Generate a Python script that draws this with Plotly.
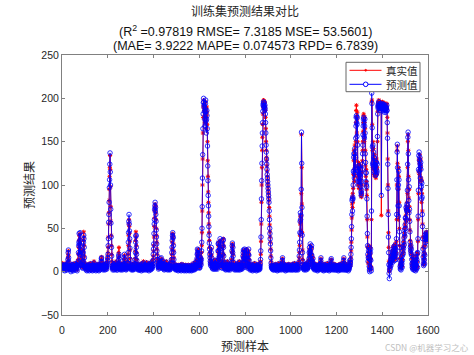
import plotly.graph_objects as go

# ---------------- data ----------------
# true values, blocks of 100 samples
t00 = [5,8,10,7,4,6,3,5,8,6,4,2,5,7,9,6,3,4,6,8,5,3,6,9,12,
       16,20,24,18,12,8,6,4,5,
       3,5,7,4,2,6,8,5,3,4,7,9,6,3,2,5,8,6,4,3,5,7,10,8,5,3,4,6,9,7,4,2,5,8,12,9,
       14,20,28,36,42,30,22,38,44,32,24,18,26,15,10,8,12,9,6,5,
       8,14,24,36,46,40,30,18,10,7]
t01 = [5,4,8,6,3,5,7,4,2,6,
       5,8,6,3,4,7,9,5,2,4,6,8,5,3,7,10,6,4,3,5,8,6,2,4,7,5,3,6,9,12,8,5,3,4,6,7,4,2,5,8,6,3,5,9,7,4,3,6,8,5,2,4,7,9,6,3,5,8,4,6,
       10,14,17,12,8,5,7,4,6,3,
       5,8,6,4,7,9,5,3,6,8,4,5,7,10,6,4,8,12,15,18]
t02 = [22,28,40,55,68,82,95,110,120,134,118,98,75,58,42,30,20,12,8,6,
       5,3,6,8,4,7,10,6,3,5,8,9,5,4,6,12,8,5,3,4,7,6,3,5,8,
       10,16,22,28,18,10,6,4,7,5,
       3,6,8,5,4,7,9,6,3,5,8,10,7,4,6,
       9,14,19,15,10,6,4,8,5,3,
       6,8,5,4,7,10,6,12,20,30,42,55,60,52,44,35,25,15,9,6]
t03 = [4,7,5,3,6,8,4,5,9,6,3,4,7,5,8,10,6,4,9,15,
       24,36,46,40,30,22,14,9,6,5,7,4,3,6,8,
       5,3,4,7,9,6,3,5,8,6,4,2,5,7,10,8,5,3,6,9,12,7,4,3,6,8,5,4,7,9,6,3,5,8,11,7,4,6,5,3,4,7,9,6,2,5,8,10,7,4,6,3,5,8,6,4,9,12,8,5,7,10,14,18,24]
t04 = [30,40,52,62,70,74,78,72,76,68,60,50,42,34,26,20,15,12,9,7,
       6,4,8,10,7,5,9,12,14,10,8,6,11,15,12,9,7,5,8,10,13,9,6,4,7,5,3,6,8,10,7,5,4,6,9,12,8,6,4,7,5,3,6,8,5,4,7,9,6,4,3,5,8,6,4,7,10,12,15,20,
       26,34,40,44,38,42,32,24,16,10,7,5,6,4,8,
       5,3,6,4,7]
t05 = [5,8,4,3,6,7,5,2,4,6,8,5,3,4,7,6,3,5,8,4,2,5,7,9,6,3,4,6,5,3,7,8,4,2,5,6,3,4,7,5,8,6,3,2,4,6,5,7,4,3,6,8,5,3,4,2,5,7,6,4,3,5,8,6,4,2,3,6,7,5,4,3,5,8,10,6,4,3,5,7,9,6,4,8,12,10,7,5,8,14,
       18,24,20,15,22,26,18,12,8,6]
t06 = [5,8,6,10,14,18,12,9,15,22,30,45,
       70,100,130,160,178,190,198,192,186,194,188,180,172,185,190,196,188,178,165,180,190,184,170,150,128,110,92,80,68,55,45,36,28,22,18,14,10,8,
       12,20,26,18,10,7,5,8,6,4,7,9,12,8,5,4,6,10,14,10,6,4,7,5,8,12,9,6,4,8,14,22,30,34,26,18,12,16,24,30,36,28,20,12,8,6,9,12,8,5]
t07 = [10,18,28,34,38,30,20,12,8,5,7,4,6,8,5,
       3,6,9,7,4,5,8,12,10,6,4,3,5,7,9,6,4,8,6,3,5,7,10,8,5,
       9,14,22,28,32,24,30,20,12,8,6,4,7,5,3,
       6,8,5,4,7,9,6,3,5,8,10,7,4,6,5,3,4,7,9,12,8,5,3,6,8,5,4,7,10,8,6,4,5,8,12,16,20,24,18,12,
       16,22,25,18,12]
t08 = [8,6,10,14,18,22,26,20,15,10,7,5,8,12,18,24,20,14,9,6,
       5,3,6,8,4,7,5,3,6,9,7,4,2,5,8,6,3,4,7,5,8,10,6,4,3,5,7,6,4,2,5,8,6,3,4,7,9,6,4,5,3,6,8,5,4,7,10,12,
       20,35,55,80,100,120,140,155,170,182,190,196,198,194,190,197,192,188,195,190,186,178,165,150,140,132,128,122,116,110,106,102]
t09 = [98,94,90,86,82,74,64,54,46,40,34,26,18,12,8,6,5,7,4,6,8,5,3,6,4,7,5,3,6,8,
       5,4,7,9,6,3,5,8,6,4,2,5,7,6,3,4,8,10,7,5,3,6,8,5,4,7,9,6,4,3,5,8,12,15,11,7,5,4,6,8,5,3,6,9,7,4,2,5,8,6,3,4,7,5,8,6,4,3,5,7,9,6,4,5,8,6,3,4,7,5]
t10 = [6,8,4,3,5,7,9,6,4,3,6,8,5,4,7,10,8,5,3,4,6,8,5,3,7,9,6,4,5,8,6,3,4,7,9,12,16,22,
       30,42,55,64,58,48,62,90,158,120,78,45,25,14,9,6,5,
       4,7,5,3,6,8,5,4,7,9,6,3,5,8,10,7,5,4,6,9,12,8,6,10,14,
       20,26,18,22,30,24,16,12,18,25,28,20,14,10,8,12,16,10,6,5]
t11 = [4,6,8,5,3,7,9,6,4,5,8,6,3,4,7,5,2,4,6,8,5,3,6,9,7,4,5,8,10,6,12,15,11,8,5,3,6,4,7,5,8,6,3,2,5,7,9,6,4,3,6,8,5,4,7,5,3,6,8,10,7,4,3,5,8,6,4,2,5,7,9,6,3,4,8,12,14,10,6,4,5,7,4,3,6,8,5,4,7,9,6,3,5,8,6,4,3,5,7,6]
t12 = [5,8,6,3,4,7,5,2,4,6,8,5,3,6,9,7,4,5,3,6,8,6,4,7,10,8,5,3,4,6,12,15,10,7,5,3,4,6,8,5,3,4,7,9,6,4,3,5,8,6,4,2,5,7,6,4,8,12,10,6,
       8,12,16,24,34,48,62,78,86,74,90,80,96,112,128,140,118,104,132,146,122,110,128,150,172,186,192,178,160,176,184,150,120,100,112,126,108,96,118,124]
t13 = [110,100,116,122,106,95,88,92,86,90,100,115,128,140,150,
       162,172,180,182,176,160,150,172,178,165,140,122,110,100,118,
       104,95,88,60,40,28,18,10,
       14,22,30,18,8,4,2,6,12,20,28,15,6,3,
       60,196,198,170,140,120,150,130,
       118,142,128,112,120,135,124,110,118,128,115,108,122,114,130,118,112,120,
       150,185,192,195,190,196,198,194,192,196,190,188,194,196,190,192,194,65,192,195,190,194]
t14 = [196,192,190,194,188,192,195,190,186,192,194,190,188,192,190,186,190,192,188,194,
       188,178,160,130,100,
       70,45,28,12,2,0,4,8,12,6,10,15,8,12,18,
       14,20,16,24,18,12,22,28,20,26,30,24,18,14,22,28,32,26,20,15,22,35,
       60,100,140,145,125,100,80,60,95,120,110,80,50,30,15,8,5,10,
       6,4,8,12,18,10,6,14,20,25,30,22,28,35,40,32,45,50,42,55]
t15 = [60,52,65,72,58,75,68,80,74,90,120,150,
       158,140,110,85,70,95,75,60,
       48,36,30,25,32,22,28,20,15,10,6,8,4,12,18,10,5,3,8,14,
       6,3,8,12,5,2,10,18,8,4,15,22,12,6,20,35,
       60,90,115,130,128,112,125,135,120,105,118,130,122,108,95,80,105,90,70,
       55,40,28,18,10,8,14,22,15,10,20,30,38,44,40,35,42,46,38,44,40,36,42,45,40]

# predicted values, same blocks
p00 = [3,6,7,8,5,4,2,6,7,4,5,1,4,8,7,5,2,5,7,6,4,2,7,8,10,
       14,22,25,16,11,6,4,3,4,
       2,6,6,3,0,5,7,6,2,3,8,8,5,2,1,6,7,5,3,4,6,6,9,7,4,2,5,7,8,6,3,1,6,7,10,8,
       12,22,30,34,44,32,20,36,45,30,22,20,24,14,8,7,11,8,5,4,
       7,12,22,34,42,38,28,16,9,6]
p01 = [4,5,7,5,2,6,6,3,1,5,
       6,7,5,2,5,6,8,4,1,5,5,7,6,2,6,9,5,3,2,6,7,5,1,5,6,4,2,7,8,10,7,4,2,5,5,6,3,1,6,7,5,2,6,8,6,3,2,5,7,4,1,5,6,8,5,2,6,7,3,5,
       12,15,16,11,7,4,6,3,5,2,
       4,7,5,3,8,8,4,2,5,7,3,6,6,9,5,3,7,10,13,16]
p02 = [20,30,38,57,66,80,97,106,124,137,115,100,72,56,40,28,18,10,7,5,
       4,2,5,7,3,6,9,5,2,6,7,8,4,3,5,10,7,4,2,5,6,5,2,4,7,
       9,13,18,20,15,9,5,3,6,4,
       2,5,7,4,3,6,8,5,2,4,7,9,6,3,5,
       8,16,20,14,9,5,3,7,4,2,
       5,7,4,3,6,9,5,10,22,34,45,58,66,55,47,38,27,14,8,5]
p03 = [3,6,4,2,5,7,3,4,8,5,2,3,6,4,7,9,5,3,8,14,
       22,34,41,42,28,20,13,8,5,4,6,3,2,5,7,
       4,2,3,6,8,5,2,4,7,5,3,1,4,6,9,7,4,2,5,8,10,6,3,2,5,7,4,3,6,8,5,2,4,7,10,6,3,5,4,2,3,6,8,5,1,4,7,9,6,3,5,2,4,7,5,3,8,11,7,4,6,9,13,20,26]
p04 = [32,44,55,60,72,76,80,70,74,66,58,48,40,32,24,18,14,11,8,6,
       5,3,7,9,6,4,8,11,15,9,7,5,10,16,11,8,6,4,7,9,12,8,5,3,6,4,2,5,7,9,6,4,3,5,8,11,7,5,3,6,4,2,5,7,4,3,6,8,5,3,2,4,7,5,3,6,9,11,14,22,
       28,36,42,45,40,39,30,22,14,9,6,4,5,3,7,
       4,2,5,3,6]
p05 = [4,7,3,2,5,6,4,1,3,5,7,4,2,3,6,5,2,4,7,3,1,4,6,8,5,2,3,5,4,2,6,7,3,1,4,5,2,3,6,4,7,5,2,1,3,5,4,6,3,2,5,7,4,2,3,1,4,6,5,3,2,4,7,5,3,1,2,5,6,4,3,2,4,7,9,5,3,2,4,6,8,5,3,7,11,9,6,4,7,15,
       20,26,22,14,20,25,17,11,7,5]
p06 = [4,7,5,9,13,16,11,8,14,24,34,50,
       75,108,135,165,182,195,200,196,190,192,185,176,168,188,194,198,185,174,160,176,186,180,165,145,122,105,88,76,64,52,42,33,26,20,16,12,9,7,
       11,22,28,16,9,6,4,7,5,3,6,8,11,7,4,3,5,9,13,9,5,3,6,4,7,11,8,5,3,7,13,24,32,33,24,16,11,18,26,32,38,26,18,11,7,5,8,11,7,4]
p07 = [9,20,30,36,37,28,18,11,7,4,6,3,5,7,4,
       2,5,8,6,3,4,7,11,9,5,3,2,4,6,8,5,3,7,5,2,4,6,9,7,4,
       8,15,24,30,33,22,28,18,11,7,5,3,6,4,2,
       5,7,4,3,6,8,5,2,4,7,9,6,3,5,4,2,3,6,8,11,7,4,2,5,7,4,3,6,9,7,5,3,4,7,11,18,22,25,16,11,
       15,24,26,17,11]
p08 = [7,5,9,15,20,24,25,18,14,9,6,4,7,13,20,26,19,13,8,5,
       4,2,5,7,3,6,4,2,5,8,6,3,1,4,7,5,2,3,6,4,7,9,5,3,2,4,6,5,3,1,4,7,5,2,3,6,8,5,3,4,2,5,7,4,3,6,9,14,
       24,40,60,84,105,125,145,160,172,185,192,194,196,190,192,195,190,186,192,188,182,172,160,146,138,130,124,118,112,108,104,100]
p09 = [96,92,88,84,80,70,60,50,44,38,32,24,16,10,7,5,4,6,3,5,7,4,2,5,3,6,4,2,5,7,
       4,3,6,8,5,2,4,7,5,3,1,4,6,5,2,3,7,9,6,4,2,5,7,4,3,6,8,5,3,2,4,7,13,16,10,6,4,3,5,7,4,2,5,8,6,3,1,4,7,5,2,3,6,4,7,5,3,2,4,6,8,5,3,4,7,5,2,3,6,4]
p10 = [5,7,3,2,4,6,8,5,3,2,5,7,4,3,6,9,7,4,2,3,5,7,4,2,6,8,5,3,4,7,5,2,3,6,8,11,18,25,
       34,45,58,68,60,44,65,95,161,125,74,42,22,12,8,5,4,
       3,6,4,2,5,7,4,3,6,8,5,2,4,7,9,6,4,3,5,8,11,7,5,9,15,
       22,28,17,24,32,22,15,11,19,27,30,19,13,9,7,11,15,9,5,4]
p11 = [3,5,7,4,2,6,8,5,3,4,7,5,2,3,6,4,1,3,5,7,4,2,5,8,6,3,4,7,9,5,13,16,10,7,4,2,5,3,6,4,7,5,2,1,4,6,8,5,3,2,5,7,4,3,6,4,2,5,7,9,6,3,2,4,7,5,3,1,4,6,8,5,2,3,7,13,15,9,5,3,4,6,3,2,5,7,4,3,6,8,5,2,4,7,5,3,2,4,6,5]
p12 = [4,7,5,2,3,6,4,1,3,5,7,4,2,5,8,6,3,4,2,5,7,5,3,6,9,7,4,2,3,5,13,16,9,6,4,2,3,5,7,4,2,3,6,8,5,3,2,4,7,5,3,1,4,6,5,3,7,13,11,7,
       10,14,20,28,38,52,66,82,84,70,86,84,100,116,132,136,114,108,136,142,118,114,132,154,168,178,180,172,156,170,178,146,116,104,116,122,104,100,122,120]
p13 = [112,104,112,118,110,98,92,88,90,94,104,118,124,136,146,
       158,168,176,178,172,156,154,168,176,160,136,126,114,104,114,
       100,98,84,64,44,30,20,12,
       16,24,28,16,6,2,0,5,14,22,26,13,4,1,
       70,206,194,166,144,124,146,126,
       122,138,132,116,124,131,120,114,122,124,111,112,126,118,126,114,116,124,
       156,182,190,192,188,194,196,192,190,193,188,186,192,194,188,190,192,88,190,193,188,192]
p14 = [194,190,188,192,186,190,193,188,184,190,192,188,186,190,188,184,188,190,186,192,
       186,172,154,124,96,
       66,40,22,8,-2,-8,2,6,10,4,9,14,7,11,17,
       13,19,15,23,17,11,21,27,19,25,29,23,17,13,21,27,31,25,19,14,21,38,
       66,106,138,147,120,96,76,64,100,116,106,76,46,28,13,6,3,8,
       4,2,7,11,17,9,5,13,19,24,29,21,27,34,39,31,44,49,41,54]
p15 = [62,50,62,74,60,72,70,78,76,94,124,155,
       161,136,106,82,68,98,72,58,
       46,34,28,24,30,21,26,19,14,9,5,7,3,11,17,9,4,2,7,13,
       5,2,7,11,4,1,9,17,7,3,14,21,11,5,22,38,
       64,94,118,134,138,116,128,132,124,108,121,126,118,104,98,84,102,86,66,
       52,38,26,17,9,7,13,21,14,9,19,29,37,43,39,34,41,45,37,43,39,35,41,44,39]

true_values = t00+t01+t02+t03+t04+t05+t06+t07+t08+t09+t10+t11+t12+t13+t14+t15
pred_values = p00+p01+p02+p03+p04+p05+p06+p07+p08+p09+p10+p11+p12+p13+p14+p15
x_true = list(range(1, len(true_values) + 1))
x_pred = list(range(1, len(pred_values) + 1))

x_ticks = [0, 200, 400, 600, 800, 1000, 1200, 1400, 1600]
y_ticks = [-50, 0, 50, 100, 150, 200, 250]

series_names = ["真实值", "预测值"]
title_1 = "训练集预测结果对比"
title_2 = "(R<sup>2</sup> =0.97819 RMSE= 7.3185 MSE= 53.5601)"
title_3 = "(MAE= 3.9222 MAPE= 0.074573 RPD= 6.7839)"

# ---------------- figure ----------------
CJK = "Noto Sans CJK SC"
LAT = "Liberation Sans, Arial, sans-serif"
TXT = "#262626"
RED = "#ff0000"
BLUE = "#0000ff"

# plot-area geometry in pixels (used to place text / legend box)
L, R, T, B = 62, 428, 55, 315
W, H = R - L, B - T
def px_x(px):
    return (px - L) / W
def px_y(py):
    return (B - py) / H

fig = go.Figure()
fig.add_trace(go.Scatter(
    x=x_true, y=true_values, name=series_names[0], mode="lines+markers",
    line=dict(color=RED, width=1),
    marker=dict(symbol="asterisk-open", size=3.5, color=RED, line=dict(color=RED, width=1)),
    showlegend=False,
))
fig.add_trace(go.Scatter(
    x=x_pred, y=pred_values, name=series_names[1], mode="lines+markers",
    line=dict(color=BLUE, width=0.8),
    marker=dict(symbol="circle-open", size=4.5, color=BLUE, line=dict(color=BLUE, width=0.8)),
    showlegend=False,
))

axis_common = dict(
    showgrid=False, zeroline=False, showline=True, mirror="ticks",
    linecolor="#808080", linewidth=1, ticks="inside", ticklen=3,
    tickcolor="#808080", tickfont=dict(family=LAT, size=10.5, color=TXT),
)
fig.update_xaxes(range=[0, 1600], tickvals=x_ticks, ticklabelstandoff=5, **axis_common)
fig.update_yaxes(range=[-50, 250], tickvals=y_ticks, **axis_common)

ann = [
    dict(text=title_1, x=0.5, y=px_y(11), font=dict(family=CJK, size=12, color=TXT)),
    dict(text=title_2, x=0.5, y=px_y(31), font=dict(family=LAT, size=12.5, color="#111")),
    dict(text=title_3, x=0.5, y=px_y(46), font=dict(family=LAT, size=12.5, color="#111")),
    dict(text="预测样本", x=0.5, y=px_y(345), font=dict(family=CJK, size=12, color=TXT)),
    dict(text="预测结果", x=px_x(28), y=0.5, textangle=-90, font=dict(family=CJK, size=12, color=TXT)),
]
annotations = []
for a in ann:
    a.update(xref="paper", yref="paper", showarrow=False, xanchor="center", yanchor="middle")
    annotations.append(a)
annotations.append(dict(text="CSDN @机器学习之心", xref="paper", yref="paper",
                        x=px_x(471), y=px_y(347), xanchor="right", yanchor="middle",
                        showarrow=False, font=dict(family=CJK, size=8.5, color="#c0c0c0")))

# legend (MATLAB-style compact box, northeast)
leg_rows = [(70.3, RED), (84.3, BLUE)]
shapes = [dict(type="rect", xref="paper", yref="paper", layer="above",
               x0=px_x(346), x1=px_x(420), y0=px_y(91.7), y1=px_y(62.3),
               fillcolor="white", line=dict(color="#666666", width=1))]
for (py, col), name in zip(leg_rows, series_names):
    shapes.append(dict(type="line", xref="paper", yref="paper", layer="above",
                       x0=px_x(349.5), x1=px_x(381.5), y0=px_y(py), y1=px_y(py),
                       line=dict(color=col, width=1)))
    annotations.append(dict(text=name, xref="paper", yref="paper", x=px_x(384), y=px_y(py),
                            xanchor="left", yanchor="middle", showarrow=False,
                            font=dict(family=CJK, size=10.5, color=TXT)))
# legend markers: small red dot, blue open circle
shapes.append(dict(type="circle", xref="paper", yref="paper", layer="above",
                   x0=px_x(364.7), x1=px_x(366.7), y0=px_y(71.3), y1=px_y(69.3),
                   fillcolor=RED, line=dict(color=RED, width=0.5)))
shapes.append(dict(type="circle", xref="paper", yref="paper", layer="above",
                   x0=px_x(363.4), x1=px_x(368.0), y0=px_y(86.6), y1=px_y(82.0),
                   fillcolor="white", line=dict(color=BLUE, width=1)))

fig.update_layout(
    width=474, height=355,
    margin=dict(l=L, r=474 - R, t=T, b=355 - B),
    paper_bgcolor="white", plot_bgcolor="white",
    showlegend=False,
    annotations=annotations,
    shapes=shapes,
)

fig.write_html("out.html", config={"displayModeBar": False},
               post_script="document.body.style.margin='0';document.body.style.padding='0';document.body.style.overflow='hidden';")
